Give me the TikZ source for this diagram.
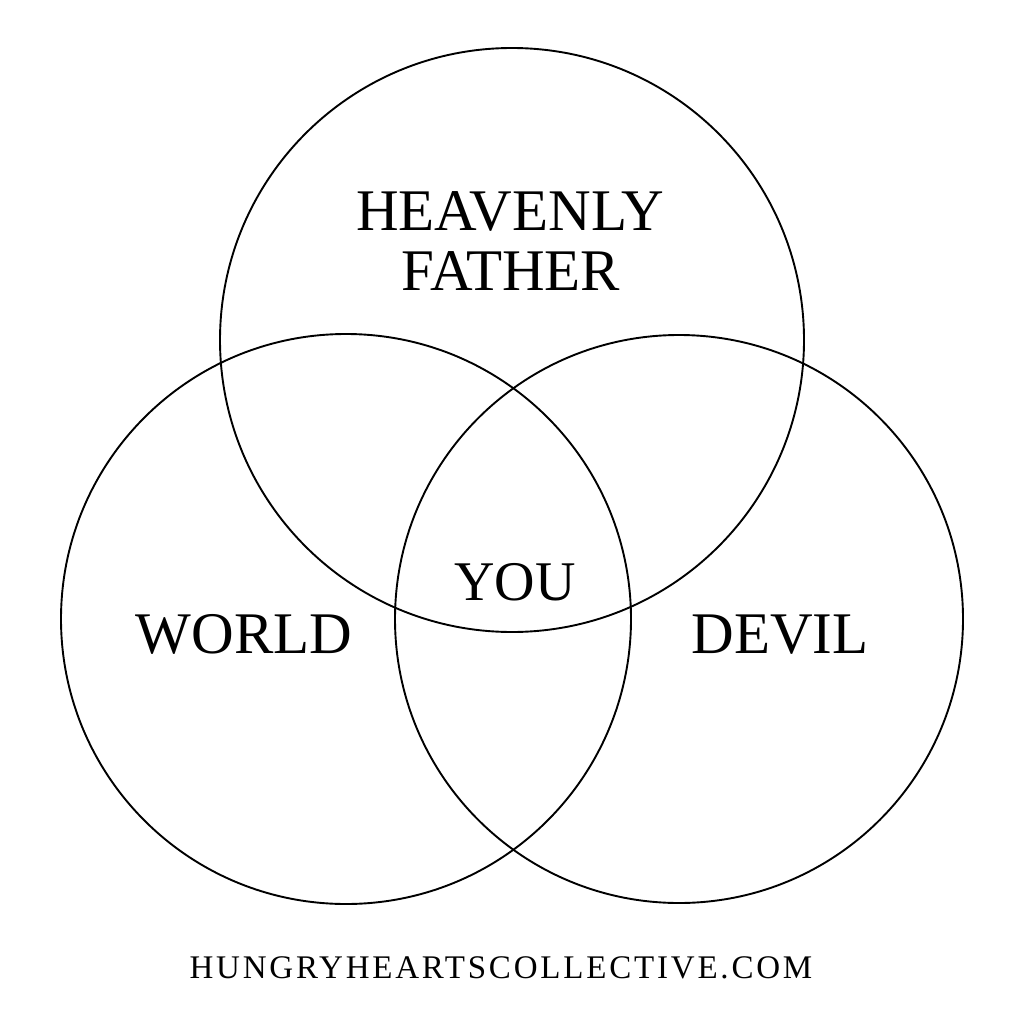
\documentclass[tikz,border=0pt]{standalone}
\usepackage{fontspec}
\setmainfont{Liberation Serif}
\begin{document}
\begin{tikzpicture}[x=1pt,y=-1pt,
  ring/.style={draw=black,line width=1.9pt},
  big/.style={font=\fontsize{59}{63}\selectfont,inner sep=0pt,anchor=base},
  small/.style={font=\fontsize{33}{36}\selectfont\addfontfeature{LetterSpace=8.5},inner sep=0pt,anchor=base}]
\useasboundingbox[fill=white] (0,0) rectangle (1024,1024);
\draw[ring] (512,340) circle[radius=292];
\draw[ring] (346,619) circle[radius=285];
\draw[ring] (679,619) circle[radius=284];
\node[big] (h1) at (510,230) {HEAVENLY};
\node[big] (h2) at (511,290) {FATHER};
\node[big,font=\fontsize{56}{60}\selectfont] (you) at (515,600) {YOU};
\node[big] (world) at (244,653) {WORLD};
\node[big] (devil) at (780,653) {DEVIL};
\node[small] (site) at (501,978) {HUNGRYHEARTSCOLLECTIVE.COM};
\end{tikzpicture}
\end{document}
